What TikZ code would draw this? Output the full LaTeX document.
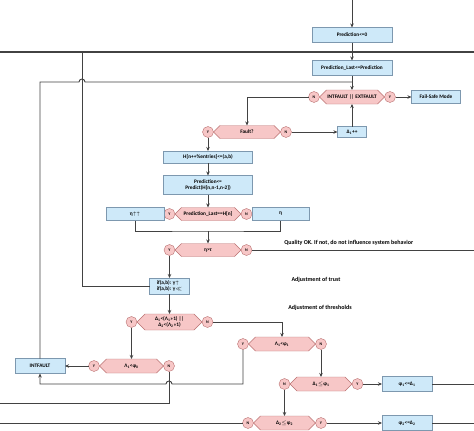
\documentclass[tikz,border=0pt]{standalone}
\usepackage{fontspec}
\setmainfont{Carlito}
\usetikzlibrary{positioning,shapes.symbols,arrows.meta}
\definecolor{boxfill}{RGB}{206,233,249}
\definecolor{boxline}{RGB}{125,152,175}
\definecolor{hexfill}{RGB}{247,199,199}
\definecolor{hexline}{RGB}{185,112,112}
\definecolor{linecol}{RGB}{66,66,66}

\begin{document}
\begin{tikzpicture}[x=1pt,y=-1pt,
  every node/.style={font=\fontsize{5.3}{5.8}\selectfont\bfseries, outer sep=0pt},
  box/.style={draw=boxline, fill=boxfill, minimum height=14pt, inner sep=1pt},
  hexa/.style={signal, signal to=east and west, signal pointer angle=90, draw=hexline, fill=hexfill, minimum height=14pt, inner sep=0.5pt},
  yn/.style={circle, draw=hexline, fill=hexfill, minimum size=11pt, inner sep=0pt, font=\fontsize{4}{4}\selectfont\bfseries},
  note/.style={font=\fontsize{6}{7}\selectfont\bfseries},
  line/.style={draw=linecol, line width=0.9pt},
  >={Stealth[length=4pt,width=3.5pt]}]
\useasboundingbox (0,0) rectangle (474,431);

\coordinate (top) at (352,0);
\coordinate (wl) at (0,52);
\coordinate (wr) at (474,52);
\coordinate (j1) at (352,82);
\coordinate (j2) at (208,231);
\coordinate (qe) at (474,250);
\coordinate (back) at (0,403);
\coordinate (e1) at (474,384);
\coordinate (e2) at (474,423);
\coordinate (w2) at (0,423);

\node[box, minimum width=80pt, minimum height=15pt] (pz) at (352,35) {Prediction<=0};
\node[box, minimum width=80pt, minimum height=15pt] (plast) at (352,68) {Prediction\_Last<=Prediction};
\node[hexa, minimum width=65pt] (flt) at (352,97) {INTFAULT || EXTFAULT};
\node[yn, left=0pt of flt] (fltN) {N};
\node[yn, right=0pt of flt] (fltY) {Y};
\node[box, minimum width=49pt, minimum height=13pt] (fs) at (436,97) {Fail-Safe Mode};

\node[hexa, minimum width=67pt, minimum height=13pt] (fault) at (247,132) {Fault?};
\node[yn, left=0pt of fault] (faultY) {Y};
\node[yn, right=0pt of fault] (faultN) {N};
\node[box, minimum width=29pt, minimum height=11pt] (dinc) at (352,132) {Δ\textsubscript{1}++};

\node[box, minimum width=89pt, minimum height=12pt] (hist) at (208,157) {H[n++\%entries]<=(a,b)};
\node[box, minimum width=89pt, minimum height=19pt, align=center] (pred) at (208,185) {Prediction<=\\Predict(H[n,n-1,n-2])};
\node[hexa, minimum width=66pt, minimum height=13pt] (plh) at (208,214) {Prediction\_Last==H[n]};
\node[yn, left=0pt of plh] (plhY) {Y};
\node[yn, right=0pt of plh] (plhN) {N};
\node[box, minimum width=58pt, minimum height=13pt, left=0pt of plhY] (etaup) {η$\uparrow\uparrow$};
\node[box, minimum width=57pt, minimum height=13pt, right=0pt of plhN] (etadn) {η};

\node[hexa, minimum width=66pt, minimum height=13pt] (qual) at (208,250) {η>τ};
\node[yn, left=0pt of qual] (qualY) {Y};
\node[yn, right=0pt of qual] (qualN) {N};
\node[note, anchor=south west] (qlab) at (281,249) {Quality OK. If not, do not influence system behavior};

\node[box, minimum width=40pt, minimum height=16pt, align=left] (trust) at (169.5,286) {if(a,b): γ$\uparrow$\\if(a,b): γ$\ll$};
\node[note] (ltrust) at (316,280) {Adjustment of trust};
\node[note] (lthr) at (320,308) {Adjustment of thresholds};

\node[hexa, minimum width=65pt, minimum height=16pt, align=center] (dd) at (169.5,322) {Δ\textsubscript{1}<(Λ\textsubscript{1}>>1) ||\\Δ\textsubscript{2}<(Λ\textsubscript{2}>>1)};
\node[yn, left=0pt of dd] (ddY) {Y};
\node[yn, right=0pt of dd] (ddN) {N};

\node[hexa, minimum width=67pt] (lam1) at (282,344) {Λ\textsubscript{1}<φ\textsubscript{1}};
\node[yn, left=0pt of lam1] (lam1Y) {Y};
\node[yn, right=0pt of lam1] (lam1N) {N};

\node[hexa, minimum width=64pt] (lam0) at (131.5,366) {Λ\textsubscript{1}<φ\textsubscript{0}};
\node[yn, left=0pt of lam0] (lam0Y) {Y};
\node[yn, right=0pt of lam0] (lam0N) {N};
\node[box, minimum width=50pt, minimum height=15pt] (intf) at (40,366) {INTFAULT};

\node[hexa, minimum width=62pt] (del1) at (321,384) {Δ\textsubscript{1}$\le$φ\textsubscript{1}};
\node[yn, left=0pt of del1] (del1N) {N};
\node[yn, right=0pt of del1] (del1Y) {Y};
\node[box, minimum width=50pt, minimum height=15pt] (phi1) at (407,384) {φ\textsubscript{1}<=Δ\textsubscript{1}};

\node[hexa, minimum width=62pt] (del2) at (284.5,423) {Δ\textsubscript{2}$\le$φ\textsubscript{2}};
\node[yn, left=0pt of del2] (del2N) {N};
\node[yn, right=0pt of del2] (del2Y) {Y};
\node[box, minimum width=50pt, minimum height=15pt] (phi2) at (407,423) {φ\textsubscript{2}<=Δ\textsubscript{2}};

\draw[line,->] (top) -- (pz);
\draw[line, line width=1.6pt] (wl) -- (wr);
\draw[line,->] (pz) -- (plast);
\draw[line,->] (plast) -- (flt);
\draw[line] (intf.north) |- (79,82) arc[start angle=180, end angle=360, radius=3] -- (j1);
\draw[line] (trust.west) -| (82,52);
\draw[line,->] (fltY) -- (fs);
\draw[line,->] (fltN) -| (fault.north);
\draw[line,->] (faultN) -- (dinc);
\draw[line,->] (dinc) -- (flt.south);
\draw[line,->] (faultY) -- (hist);
\draw[line,->] (hist) -- (pred);
\draw[line,->] (pred) -- (plh);
\draw[line] (etaup.south) |- (j2) -| (etadn.south);
\draw[line,->] (j2) -- (qual);
\draw[line] (qualN) -- (qe);
\draw[line,->] (qualY) -- (trust);
\draw[line,->] (trust) -- (dd);
\draw[line,->] (ddY) -- (lam0);
\draw[line,->] (ddN) -| (lam1.north);
\draw[line,->] (lam0Y) -- (intf);
\draw[line] (lam0N) |- (back);
\draw[line,->] (lam1Y) |- (172,384) arc[start angle=0, end angle=-180, radius=3] -| (intf.south);
\draw[line,->] (lam1N) -- (del1);
\draw[line,->] (del1Y) -- (phi1);
\draw[line] (phi1) -- (e1);
\draw[line,->] (del1N) -- (del2);
\draw[line,->] (del2Y) -- (phi2);
\draw[line] (phi2) -- (e2);
\draw[line] (del2N) -- (w2);
\end{tikzpicture}
\end{document}
